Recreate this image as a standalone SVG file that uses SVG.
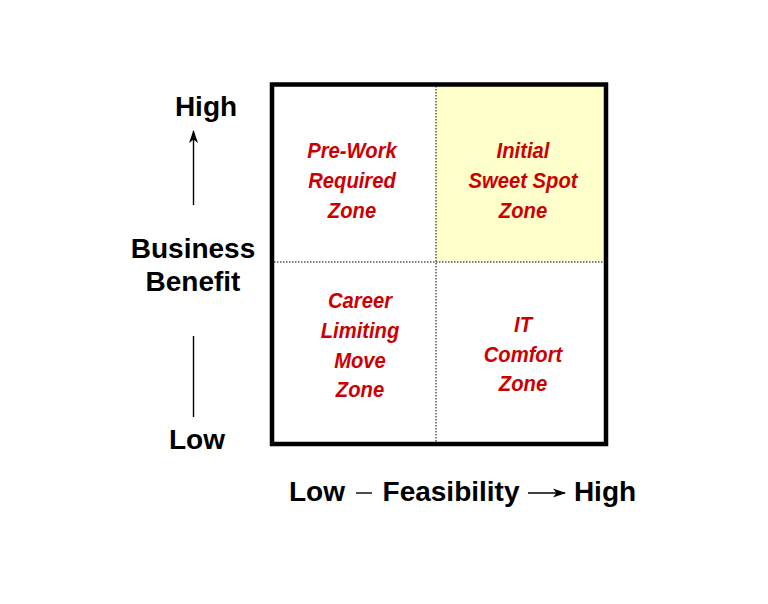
<svg xmlns="http://www.w3.org/2000/svg" width="768" height="604" viewBox="0 0 768 604">
<style>
.zone{font-family:"Liberation Sans",Arial,sans-serif;font-weight:bold;font-style:italic;font-size:22px;fill:#CC0000;text-anchor:middle}
.axis{font-family:"Liberation Sans",Arial,sans-serif;font-weight:bold;font-size:28px;fill:#000;text-anchor:middle}
.div{stroke:#000;stroke-width:1;stroke-dasharray:1.5 1.5;fill:none}
.ln{stroke:#000;stroke-width:1.4;fill:none}
</style>
<defs>
<marker id="ah" viewBox="0 0 13 10" refX="12" refY="5" markerWidth="13" markerHeight="10" markerUnits="userSpaceOnUse" orient="auto">
<path d="M0,0.5 L13,5 L0,9.5 L3.5,5 Z" fill="#000"/>
</marker>
</defs>
<rect width="768" height="604" fill="#fff"/>
<g id="sweet-spot-fill"><rect x="436" y="86" width="169" height="176" fill="#FFFFCC"/></g>
<g id="grid">
<line class="div" x1="436" y1="86" x2="436" y2="442"/>
<line class="div" x1="274" y1="262" x2="604" y2="262"/>
<rect x="272" y="84.5" width="334" height="359.5" fill="none" stroke="#000" stroke-width="4.5"/>
</g>
<g id="pre-work" transform="translate(352,0) scale(0.92,1)"><text class="zone"><tspan x="0" y="158">Pre-Work</tspan><tspan x="0" y="188">Required</tspan><tspan x="0" y="218">Zone</tspan></text></g>
<g id="sweet-spot" transform="translate(523,0) scale(0.92,1)"><text class="zone"><tspan x="0" y="158">Initial</tspan><tspan x="0" y="188">Sweet Spot</tspan><tspan x="0" y="218">Zone</tspan></text></g>
<g id="career" transform="translate(360,0) scale(0.92,1)"><text class="zone"><tspan x="0" y="308">Career</tspan><tspan x="0" y="338">Limiting</tspan><tspan x="0" y="368">Move</tspan><tspan x="0" y="397">Zone</tspan></text></g>
<g id="it-comfort" transform="translate(523,0) scale(0.92,1)"><text class="zone"><tspan x="0" y="332">IT</tspan><tspan x="0" y="362">Comfort</tspan><tspan x="0" y="391">Zone</tspan></text></g>
<g id="y-axis">
<text class="axis" x="206" y="116">High</text>
<text class="axis" x="193" y="258">Business</text>
<text class="axis" x="193" y="291">Benefit</text>
<text class="axis" x="197" y="449">Low</text>
</g>
<g id="x-axis">
<text class="axis" x="317" y="501">Low</text>
<text class="axis" x="451" y="501">Feasibility</text>
<text class="axis" x="605" y="501">High</text>
</g>
<g id="connectors">
<line class="ln" x1="193.5" y1="205" x2="193.5" y2="131" marker-end="url(#ah)"/>
<line class="ln" x1="193.5" y1="336" x2="193.5" y2="417"/>
<line class="ln" x1="356" y1="493" x2="372" y2="493"/>
<line class="ln" x1="528" y1="493" x2="565" y2="493" marker-end="url(#ah)"/>
</g>
</svg>
